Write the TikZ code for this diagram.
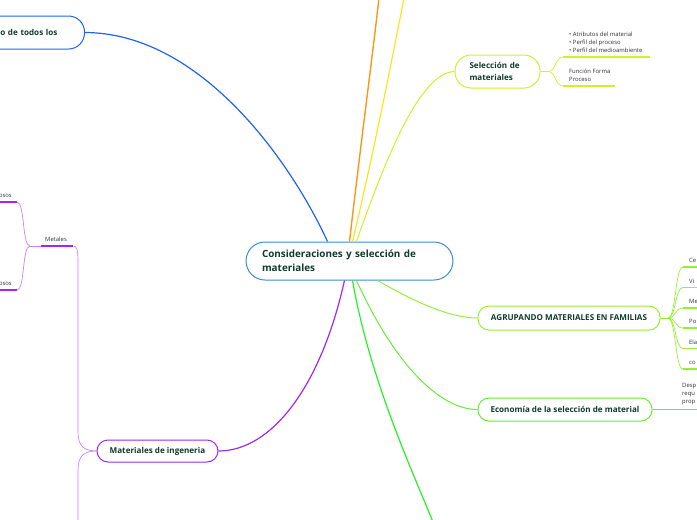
\documentclass[tikz,border=0pt]{standalone}
\usepackage{fontspec}
\setmainfont{Open Sans}
\definecolor{mainblue}{RGB}{60,140,210}
\definecolor{objblue}{RGB}{30,100,240}
\definecolor{orangeln}{RGB}{250,150,30}
\definecolor{yellowln}{RGB}{250,230,30}
\definecolor{selgreen}{RGB}{210,240,40}
\definecolor{agrgreen}{RGB}{150,240,50}
\definecolor{ecogreen}{RGB}{100,240,50}
\definecolor{brightgreen}{RGB}{40,240,40}
\definecolor{ingpurple}{RGB}{160,40,240}
\definecolor{lightpurple}{RGB}{200,130,255}
\definecolor{darktext}{RGB}{15,60,45}
\definecolor{leaftext}{RGB}{50,50,50}
\tikzset{
  topicbox/.style={draw, line width=1pt, fill=white, rounded corners=11pt,
    font=\fontsize{8.1}{11.5}\selectfont\bfseries, text=darktext, align=left},
  leaf/.style={inner xsep=6pt, inner ysep=4pt, align=left,
    font=\fontsize{5.9}{8}\selectfont, text=leaftext},
  branch/.style={line width=0.7pt},
  underline/.style={line width=1.2pt}
}
\begin{document}
\begin{tikzpicture}[x=1pt,y=-1pt]
\useasboundingbox (0,0) rectangle (697,520);

% central topic
\node[topicbox, draw=mainblue, rounded corners=19pt, minimum width=207pt, minimum height=38pt,
  text width=175pt, inner xsep=16pt, font=\fontsize{9.9}{14}\selectfont\bfseries] (main) at (349.5,261)
  {Consideraciones y selección de\\materiales};

% main topics
\node[topicbox, draw=objblue, rounded corners=16pt, minimum height=33pt, anchor=east,
  text width=110pt, inner xsep=27pt, align=right] (obj) at (85,32.5) {o de todos los};
\node[topicbox, draw=selgreen, rounded corners=16pt, minimum width=85pt, minimum height=33pt,
  text width=56pt, inner xsep=14.5pt] (sel) at (497.5,71.5)
  {Selección de\\materiales};
\node[topicbox, draw=agrgreen, minimum width=182pt, minimum height=24pt] (agr) at (569,318)
  {AGRUPANDO MATERIALES EN FAMILIAS};
\node[topicbox, draw=ecogreen, minimum width=174pt, minimum height=23pt] (eco) at (565,409.5)
  {Economía de la selección de material};
\node[topicbox, draw=ingpurple, minimum width=121pt, minimum height=22pt] (ing) at (157.5,451)
  {Materiales de ingeneria};

% free ends off the page
\coordinate (topA) at (379,-2);
\coordinate (topB) at (404,-2);
\coordinate (botA) at (433,522);
\coordinate (botB) at (78,522);

% connectors from the central topic
\draw[objblue, line width=1.2pt] ([xshift=-22pt]main.north) .. controls (290,160) and (200,33) .. (obj.east);
\draw[orangeln, line width=1.4pt] ([xshift=0pt]main.north) .. controls (360,150) and (372,60) .. (topA);
\draw[yellowln, line width=1.2pt] ([xshift=3pt]main.north) .. controls (372,160) and (392,60) .. (topB);
\draw[selgreen, line width=1pt] ([xshift=7pt]main.north) .. controls (385,160) and (420,72) .. (sel.west);
\draw[ingpurple, line width=1.2pt] ([xshift=-5pt]main.south) .. controls (320,390) and (270,451) .. (ing.east);
\draw[brightgreen, line width=1.2pt] ([xshift=3pt]main.south) .. controls (370,380) and (412,470) .. (botA);
\draw[ecogreen, line width=1pt] ([xshift=7pt]main.south) .. controls (395,365) and (440,409.5) .. (eco.west);
\draw[agrgreen, line width=1pt] ([xshift=28pt]main.south) .. controls (415,302) and (450,318) .. (agr.west);

% Seleccion de materiales
\node[leaf, anchor=south west] (attr) at (563,57)
  {• Atributos del material\\• Perfil del proceso\\• Perfil del medioambiente};
\node[leaf, anchor=south west] (ffp) at (563,86) {Función Forma\\Proceso};
\coordinate (selhub) at (548,71.5);
\draw[selgreen, branch] (sel.east) -- (selhub);
\draw[selgreen, branch] (selhub) .. controls (556,71.5) and (555,57) .. (attr.south west);
\draw[selgreen, branch] (selhub) .. controls (556,71.5) and (555,86) .. (ffp.south west);
\draw[selgreen, underline] (attr.south west) -- +(87,0);
\draw[selgreen, underline] (ffp.south west) -- +(52,0);

% familias
\coordinate (agrhub) at (668,318);
\draw[agrgreen, branch] (agr.east) -- (agrhub);
\foreach \name/\txt/\yy in {cer/Ce/267, vid/Vi/287.5, met/Me/308, pol/Po/328, ela/Ela/348.5, com/co/369} {
  \node[leaf, anchor=south west] (\name) at (683,\yy) {\txt};
  \draw[agrgreen, branch] (agrhub) .. controls (676,318) and (675,\yy) .. (\name.south west);
  \draw[agrgreen, underline] (\name.south west) -- +(20,0);
}

% economia
\node[leaf, anchor=south west, inner xsep=4pt] (desp) at (678,409.5) {Desp\\requ\\prop};
\draw[ecogreen, branch] (eco.east) -- (desp.south west);
\draw[ecogreen, underline] (desp.south west) -- +(22,0);

% materiales de ingeneria
\node[leaf, anchor=south west, inner xsep=4pt] (metales) at (41,246) {Metales};
\node[leaf, anchor=south east, inner xsep=5pt] (ferr) at (17,202) {osos};
\node[leaf, anchor=south east, inner xsep=5pt] (noferr) at (17,290) {osos};
\draw[lightpurple, branch] (ing.west) .. controls (84,451) and (78,446) .. (78,432)
  -- (78,262) .. controls (78,250) and (77,246) .. ([xshift=32pt]metales.south west);
\draw[lightpurple, branch] (ing.west) .. controls (84,451) and (78,456) .. (78,470) -- (botB);
\draw[ingpurple, underline] (metales.south west) -- +(32,0);
\coordinate (methub) at (30,246);
\draw[lightpurple, branch] (metales.south west) -- (methub);
\draw[lightpurple, branch] (methub) .. controls (22,246) and (25,202) .. (ferr.south east);
\draw[lightpurple, branch] (methub) .. controls (22,246) and (25,290) .. (noferr.south east);
\draw[ingpurple, underline] (ferr.south east) -- +(-20,0);
\draw[ingpurple, underline] (noferr.south east) -- +(-20,0);
\end{tikzpicture}
\end{document}
